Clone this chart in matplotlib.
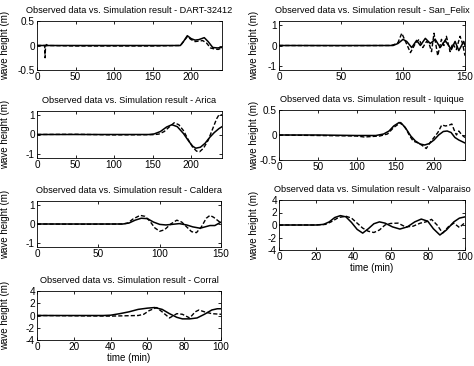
import matplotlib
matplotlib.use("Agg")
import matplotlib.pyplot as plt
from matplotlib.ticker import FormatStrFormatter

plt.rcParams['font.family'] = ['Liberation Sans', 'DejaVu Sans']
plt.rcParams['axes.unicode_minus'] = False

# ---- data (time in min, wave height in m) ----
dart_t_obs = [0, 8, 10, 10.5, 11, 12, 14, 50, 100, 150, 186, 190, 195, 200, 205, 210, 215, 220, 225, 230, 235, 240]
dart_h_obs = [0, 0, 0, -0.25, -0.05, 0.02, 0, -0.01, -0.01, -0.01, 0, 0.08, 0.18, 0.12, 0.08, 0.09, 0.1, 0.05, -0.05, -0.07, -0.08, -0.05]
dart_t_sim = [0, 50, 100, 150, 186, 190, 195, 200, 205, 210, 217, 222, 228, 234, 240]
dart_h_sim = [0, 0, 0, 0, 0, 0.08, 0.2, 0.14, 0.11, 0.12, 0.16, 0.08, -0.04, -0.05, -0.04]

sanf_t_obs = [0, 50, 90, 93, 96, 99, 102, 106, 110, 113, 116, 119, 121, 123, 125, 128, 131, 133, 135, 138, 140, 143, 146, 148, 150]
sanf_h_obs = [0, -0.01, 0, 0.05, 0.15, 0.6, 0.2, -0.35, 0.1, 0.3, -0.1, 0.2, 0.1, -0.3, 0.6, -0.5, 0.3, 0.0, 0.45, -0.3, 0.1, -0.2, 0.45, 0.1, -0.5]
sanf_t_sim = [0, 50, 92, 96, 100, 103, 107, 111, 114, 118, 122, 126, 130, 134, 139, 142, 145, 149, 150]
sanf_h_sim = [0, 0, 0, 0.1, 0.3, 0.2, -0.1, 0.25, 0.0, 0.35, 0.1, 0.3, -0.1, 0.25, -0.2, 0.2, -0.25, 0.2, 0.0]

aric_t_obs = [0, 50, 100, 150, 158, 165, 172, 178, 184, 190, 196, 202, 207, 211, 216, 222, 228, 233, 236, 240]
aric_h_obs = [0, 0.01, -0.02, -0.01, 0.02, 0.15, 0.4, 0.6, 0.5, 0.2, -0.25, -0.65, -0.85, -0.88, -0.7, -0.3, 0.3, 0.8, 1.0, 1.0]
aric_t_sim = [0, 50, 100, 145, 152, 160, 168, 175, 182, 190, 197, 202, 206, 212, 218, 224, 230, 236, 240]
aric_h_sim = [0, 0, 0, 0, 0.03, 0.15, 0.38, 0.5, 0.4, 0.05, -0.35, -0.6, -0.7, -0.65, -0.45, -0.15, 0.1, 0.3, 0.4]

iqui_t_obs = [0, 50, 100, 110, 120, 130, 140, 148, 157, 163, 168, 173, 178, 184, 190, 195, 200, 205, 210, 215, 220, 223, 226, 229, 232, 236, 240]
iqui_h_obs = [0, -0.01, -0.02, -0.04, -0.03, -0.02, 0.02, 0.15, 0.25, 0.15, 0.0, -0.12, -0.15, -0.2, -0.27, -0.15, -0.05, 0.05, 0.2, 0.18, 0.2, 0.22, 0.1, 0.0, 0.08, 0.0, -0.05]
iqui_t_sim = [0, 50, 100, 125, 135, 142, 148, 155, 160, 165, 170, 176, 182, 188, 194, 200, 206, 212, 217, 222, 227, 232, 236, 240]
iqui_h_sim = [0, 0, -0.01, -0.01, 0.02, 0.08, 0.18, 0.25, 0.2, 0.1, -0.02, -0.12, -0.18, -0.2, -0.17, -0.1, 0.0, 0.07, 0.08, 0.05, -0.05, -0.1, -0.13, -0.16]

cald_t_obs = [0, 40, 70, 74, 78, 84, 88, 92, 96, 100, 104, 109, 114, 118, 122, 126, 130, 134, 138, 141, 144, 147, 150]
cald_h_obs = [0, -0.01, 0, 0.05, 0.25, 0.45, 0.4, 0.15, -0.2, -0.38, -0.3, 0.0, 0.2, 0.1, -0.15, -0.4, -0.45, -0.15, 0.3, 0.45, 0.35, 0.2, 0.05]
cald_t_sim = [0, 40, 70, 75, 80, 85, 90, 95, 100, 105, 110, 116, 122, 127, 133, 137, 141, 145, 150]
cald_h_sim = [0, 0, 0, 0.05, 0.2, 0.3, 0.28, 0.1, -0.02, -0.05, -0.02, 0.02, -0.05, -0.15, -0.22, -0.15, -0.08, -0.08, 0.1]

valp_t_obs = [0, 20, 25, 28, 32, 36, 39, 42, 45, 48, 51, 54, 57, 60, 64, 68, 72, 76, 79, 82, 85, 88, 91, 94, 97, 100]
valp_h_obs = [0, 0, 0.1, 0.5, 1.2, 1.4, 1.1, 0.3, -0.5, -1.0, -1.2, -0.8, 0.0, 0.25, 0.3, -0.3, -0.2, 0.3, 0.5, 0.9, 0.0, -1.3, -0.3, 0.3, -0.4, 0.4]
valp_t_sim = [0, 20, 24, 27, 30, 33, 36, 39, 42, 45, 48, 51, 54, 57, 61, 65, 69, 73, 76.5, 80, 83, 86.5, 90, 94, 97, 100]
valp_h_sim = [0, 0, 0.1, 0.5, 1.2, 1.5, 1.3, 0.4, -0.7, -1.3, -0.6, 0.2, 0.5, 0.3, -0.3, -0.65, -0.3, 0.5, 0.95, 0.6, -0.6, -1.6, -0.8, 0.5, 1.1, 1.3]

corr_t_obs = [0, 20, 40, 55, 58, 61, 65, 68, 72, 76, 79, 83, 86, 88, 91, 95, 100]
corr_h_obs = [0, -0.05, -0.1, 0.0, 0.2, 0.8, 1.3, 0.6, -0.4, 0.3, 0.2, -0.4, 0.6, 0.9, 0.6, 0.3, 0.2]
corr_t_sim = [0, 20, 36, 40, 45, 50, 55, 60, 64, 68, 72, 76, 79, 83, 87, 91, 95, 98, 100]
corr_h_sim = [0, 0, 0, 0.05, 0.3, 0.6, 1.0, 1.2, 1.3, 1.0, 0.3, -0.3, -0.55, -0.55, -0.4, 0.2, 0.9, 1.1, 1.1]

titles = ['DART-32412', 'San_Felix', 'Arica', 'Iquique', 'Caldera', 'Valparaiso', 'Corral']
xlims = [240, 150, 240, 240, 150, 100, 100]
ylims = [0.5, 1.2, 1.2, 0.5, 1.2, 4, 4]
xticks = [[0, 50, 100, 150, 200], [0, 50, 100, 150], [0, 50, 100, 150, 200], [0, 50, 100, 150, 200],
          [0, 50, 100, 150], [0, 20, 40, 60, 80, 100], [0, 20, 40, 60, 80, 100]]
yticks = [[-0.5, 0, 0.5], [-1, 0, 1], [-1, 0, 1], [-0.5, 0, 0.5], [-1, 0, 1], [-4, -2, 0, 2, 4], [-4, -2, 0, 2, 4]]
obs = [(dart_t_obs, dart_h_obs), (sanf_t_obs, sanf_h_obs), (aric_t_obs, aric_h_obs), (iqui_t_obs, iqui_h_obs),
       (cald_t_obs, cald_h_obs), (valp_t_obs, valp_h_obs), (corr_t_obs, corr_h_obs)]
sim = [(dart_t_sim, dart_h_sim), (sanf_t_sim, sanf_h_sim), (aric_t_sim, aric_h_sim), (iqui_t_sim, iqui_h_sim),
       (cald_t_sim, cald_h_sim), (valp_t_sim, valp_h_sim), (corr_t_sim, corr_h_sim)]

W, H = 474, 366
fig = plt.figure(figsize=(W / 100, H / 100), dpi=100)

# axes boxes in pixels: (left, top, right, bottom)
boxes = [(37, 21, 222, 70), (279, 21, 465, 70),
         (37, 111, 222, 158), (279, 110, 465, 160),
         (37, 201, 221, 247), (279, 200, 465, 250),
         (37, 291, 221, 340)]
ylabel_x = [10, 259.5, 10, 259.5, 10, 259.5, 10]

for i in range(7):
    l, t, r, b = boxes[i]
    ax = fig.add_axes([l / W, 1 - b / H, (r - l) / W, (b - t) / H])
    ax.plot(sim[i][0], sim[i][1], color='black', lw=1.1, ls='-')
    ax.plot(obs[i][0], obs[i][1], color='black', lw=1.0, ls=(0, (3, 1.5)))
    ax.set_xlim(0, xlims[i])
    ax.set_ylim(-ylims[i], ylims[i])
    ax.set_xticks(xticks[i])
    ax.set_yticks(yticks[i])
    ax.yaxis.set_major_formatter(FormatStrFormatter('%g'))
    ax.tick_params(direction='in', top=True, right=True, length=2.5, width=0.6, labelsize=7.2, pad=1.5)
    for s in ax.spines.values():
        s.set_linewidth(0.6)
    ax.set_title('Observed data vs. Simulation result - ' + titles[i], fontsize=6.6, pad=6)
    ax.set_ylabel('wave height (m)', fontsize=7)
    ax.yaxis.set_label_coords((ylabel_x[i] - l) / (r - l), 0.5)
    if i in (5, 6):
        ax.set_xlabel('time (min)', fontsize=7, labelpad=1)

fig.savefig('out.png', dpi=100)
